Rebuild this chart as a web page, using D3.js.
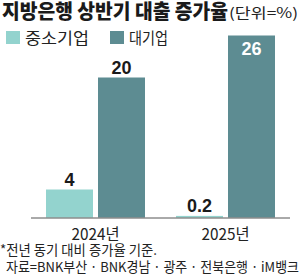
<!DOCTYPE html>
<html>
<head>
<meta charset="utf-8">
<script src="https://cdn.jsdelivr.net/npm/d3@7"></script>
<style>
	body { margin: 0; background: #fff; }
	svg { display: block; font-family: "Noto Sans CJK KR", "Noto Sans", sans-serif; }
</style>
</head>
<body>
<div id="graphicContainer"></div>
<script>
var years = ["2024년", "2025년"]
var seriesNames = ["중소기업", "대기업"]
var smallBiz = [4, 0.2]
var largeBiz = [20, 26]
var valueLabels = [["4", "20"], ["0.2", "26"]]
var colors = ["#93d3ce", "#5d8c92"]

var width = 300, height = 277
var svg = d3.select("#graphicContainer").append("svg")
	.attr("width", width)
	.attr("height", height)

// title
svg.append("text")
	.attr("x", 2).attr("y", 19)
	.attr("font-size", 20).attr("font-weight", 900).attr("fill", "#1a1a1a")
	.attr("textLength", 226).attr("lengthAdjust", "spacingAndGlyphs")
	.text("지방은행 상반기 대출 증가율")
svg.append("text")
	.attr("x", 229).attr("y", 18)
	.attr("font-size", 14).attr("fill", "#222")
	.attr("textLength", 69).attr("lengthAdjust", "spacingAndGlyphs")
	.text("(단위=%)")

// legend
var legendX = [6, 110], legendW = [64, 39]
seriesNames.forEach((name, i) => {
	svg.append("rect")
		.attr("x", legendX[i]).attr("y", 31)
		.attr("width", 14).attr("height", 13)
		.attr("fill", colors[i])
	svg.append("text")
		.attr("x", legendX[i] + 19).attr("y", 44)
		.attr("font-size", 16).attr("fill", "#222")
		.attr("textLength", legendW[i]).attr("lengthAdjust", "spacingAndGlyphs")
		.text(name)
})

var x = d3.scaleBand().domain(years).range([46, 275]).paddingInner(31 / 130)
var xSub = d3.scaleBand().domain([0, 1]).range([0, x.bandwidth()]).paddingInner(5 / 52)
var y = d3.scaleLinear().domain([0, 26]).range([217.5, 35.5])

var data = years.map((yr, i) => ({year: yr, values: [smallBiz[i], largeBiz[i]], labels: valueLabels[i]}))

var groups = svg.append("g").selectAll("g")
	.data(data)
	.join("g")
	.attr("transform", d => `translate(${x(d.year)},0)`)

groups.selectAll("rect")
	.data(d => d.values.map((v, j) => ({v: v, j: j, label: d.labels[j]})))
	.join("rect")
	.attr("x", d => xSub(d.j))
	.attr("width", xSub.bandwidth())
	.attr("y", d => Math.min(y(d.v), y(0) - 1.6))
	.attr("height", d => Math.max(y(0) - y(d.v), 1.6))
	.attr("fill", d => colors[d.j])

groups.selectAll("text.val")
	.data(d => d.values.map((v, j) => ({v: v, j: j, label: d.labels[j]})))
	.join("text")
	.attr("class", "val")
	.attr("x", d => xSub(d.j) + xSub.bandwidth() / 2)
	.attr("y", d => d.v > 25 ? y(d.v) + 19 : y(d.v) - 4)
	.attr("text-anchor", "middle")
	.attr("font-size", 18).attr("font-weight", "bold")
	.attr("font-family", "'Liberation Sans Narrow', 'Liberation Sans', sans-serif")
	.attr("fill", d => d.v > 25 ? "#fff" : "#1a1a1a")
	.text(d => d.label)

// baseline
svg.append("line")
	.attr("x1", 31).attr("x2", 290)
	.attr("y1", y(0) + 0.5).attr("y2", y(0) + 0.5)
	.attr("stroke", "#555").attr("stroke-width", 1)

// x labels
svg.append("g").selectAll("text")
	.data(years)
	.join("text")
	.attr("x", d => x(d) + x.bandwidth() / 2)
	.attr("y", 240)
	.attr("text-anchor", "middle")
	.attr("font-size", 16).attr("fill", "#222")
	.attr("textLength", 48).attr("lengthAdjust", "spacingAndGlyphs")
	.text(d => d)

// notes
svg.append("text")
	.attr("x", 0).attr("y", 255)
	.attr("font-size", 13.5).attr("fill", "#222")
	.attr("textLength", 157).attr("lengthAdjust", "spacingAndGlyphs")
	.text("*전년 동기 대비 증가율 기준.")
svg.append("text")
	.attr("x", 6).attr("y", 272)
	.attr("font-size", 13.5).attr("fill", "#222")
	.attr("textLength", 293).attr("lengthAdjust", "spacingAndGlyphs")
	.text("자료=BNK부산 · BNK경남 · 광주 · 전북은행 · iM뱅크")
</script>
</body>
</html>
